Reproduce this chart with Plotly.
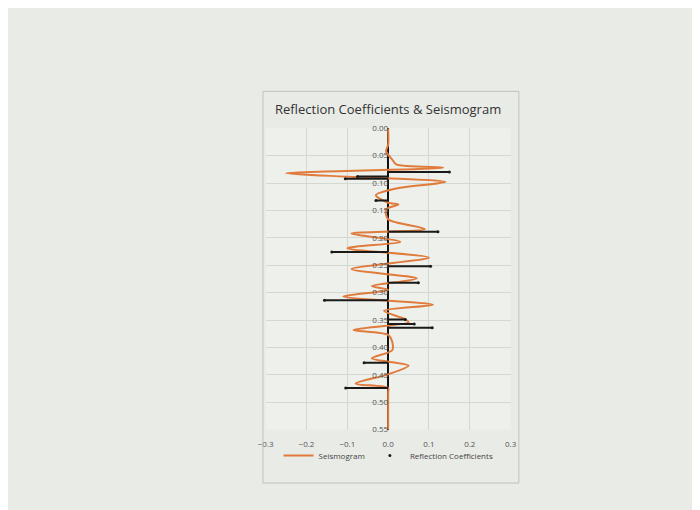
import plotly.graph_objects as go

# seismogram trace (time s, amplitude)
seis_t = [0.0, 0.03, 0.042, 0.057, 0.066, 0.072, 0.082, 0.089, 0.098, 0.110, 0.122, 0.136,
          0.139, 0.148, 0.166, 0.184, 0.192, 0.207, 0.219, 0.236, 0.257, 0.274, 0.288,
          0.295, 0.307, 0.322, 0.333, 0.348, 0.354, 0.368, 0.377, 0.390, 0.405, 0.420,
          0.433, 0.449, 0.466, 0.474, 0.482, 0.55]
seis_a = [0.0, 0.0, -0.005, 0.01, 0.02, 0.135, -0.25, -0.08, 0.14, 0.02, -0.03, 0.0,
          0.025, -0.005, 0.0, 0.09, -0.09, 0.03, -0.1, 0.1, -0.09, 0.07, -0.04,
          0.0, -0.11, 0.11, -0.01, 0.04, 0.05, -0.085, 0.0, 0.01, 0.01, -0.04,
          0.05, 0.0, -0.08, 0.0, 0.0, 0.0]

# reflection coefficients
rc_t = [0.080, 0.088, 0.092, 0.132, 0.189, 0.226, 0.252, 0.282, 0.314, 0.349, 0.357, 0.364, 0.428, 0.474]
rc_v = [0.15, -0.075, -0.105, -0.03, 0.122, -0.138, 0.104, 0.074, -0.156, 0.042, 0.064, 0.108, -0.059, -0.104]

x0, x1 = 0.364, 0.721
fig = go.Figure()

fig.add_trace(go.Scatter(x=seis_a, y=seis_t, mode="lines", name="Seismogram",
                         line=dict(color="#e07b3c", width=2, shape="spline", smoothing=0.8)))

# stems from zero out to each coefficient
stem_x, stem_y = [], []
for t, v in zip(rc_t, rc_v):
    stem_x += [0, v, None]
    stem_y += [t, t, None]
fig.add_trace(go.Scatter(x=stem_x, y=stem_y, mode="lines", showlegend=False,
                         line=dict(color="#1a1a1a", width=2)))
fig.add_trace(go.Scatter(x=rc_v, y=rc_t, mode="markers", name="Reflection Coefficients",
                         marker=dict(color="#1a1a1a", size=3)))

fig.update_layout(
    width=700, height=510,
    margin=dict(l=0, r=0, t=0, b=0),
    paper_bgcolor="#e9ebe6", plot_bgcolor="#eef0ec",
    font=dict(family="Open Sans", color="#555"),
    title=dict(text="Reflection Coefficients & Seismogram", x=0.543, y=0.81,
               xanchor="center", font=dict(size=13, color="#333")),
    xaxis=dict(domain=[x0, x1], range=[-0.3, 0.3], dtick=0.1, tickformat=".1f",
               showgrid=True, gridcolor="#d4d8d2", zeroline=True, zerolinecolor="#111",
               zerolinewidth=2, tickfont=dict(size=8), showline=False, ticklabelstandoff=8),
    yaxis=dict(domain=[0.167, 0.771], range=[0.55, 0.0], dtick=0.05, tickformat=".2f",
               anchor="free", position=(x0 + x1) / 2, showgrid=True, gridcolor="#d4d8d2",
               zeroline=False, tickfont=dict(size=8), showline=False),
    legend=dict(orientation="h", x=0.543, xanchor="center", y=0.115, yanchor="middle",
                bgcolor="rgba(0,0,0,0)", font=dict(size=8, color="#444")),
    shapes=[dict(type="rect", xref="paper", yref="paper", x0=0.36, x1=0.733,
                 y0=0.06, y1=0.845, line=dict(color="#bfc2bc", width=1))],
)

fig.write_html("out.html")
